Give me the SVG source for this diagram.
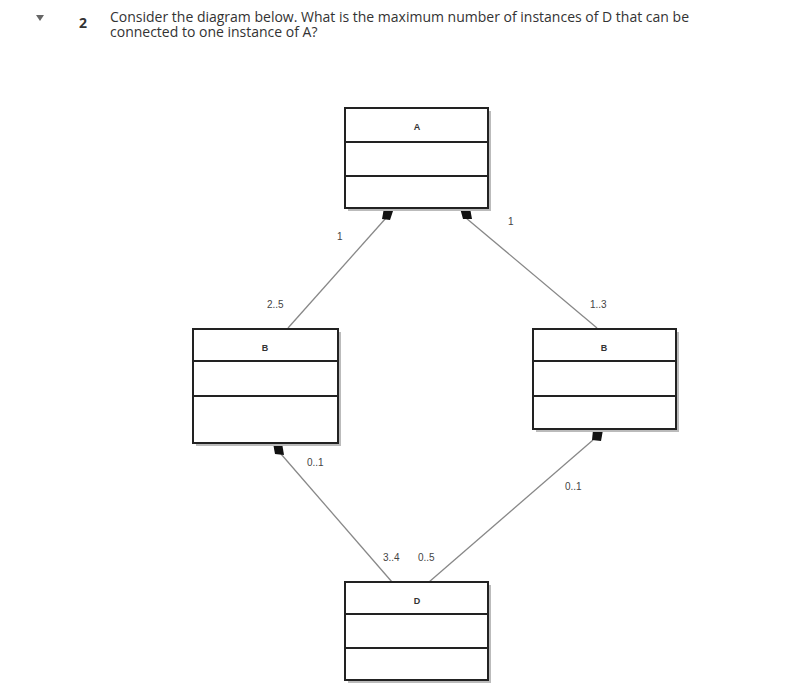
<svg xmlns="http://www.w3.org/2000/svg" width="788" height="683" viewBox="0 0 788 683">
<style>
.box{fill:#fff;stroke:#222;stroke-width:2}
.sh{fill:#bbb}
.dv{stroke:#222;stroke-width:2}
.ln{stroke:#888;stroke-width:1.3;fill:none}
.lb{font-family:"Liberation Sans",Arial,sans-serif;font-size:10px;fill:#444}
.nm{font-family:"Liberation Sans",Arial,sans-serif;font-size:9px;font-weight:bold;fill:#333;text-anchor:middle}
.q{font-family:"Open Sans","Liberation Sans",sans-serif;font-size:14px;fill:#333}
</style>
<rect width="788" height="683" fill="#fff"/>
<g id="header">
<polygon points="36,15 44,15 40,21" fill="#666"/>
<text x="79" y="28" class="q" font-weight="bold" font-size="14">2</text>
<text x="110" y="22" class="q">Consider the diagram below. What is the maximum number of instances of D that can be</text>
<text x="110" y="37" class="q">connected to one instance of A?</text>
</g>
<g id="connectors">
<line class="ln" x1="386" y1="218" x2="288" y2="328"/>
<line class="ln" x1="466" y1="218" x2="597" y2="328"/>
<line class="ln" x1="281" y1="454" x2="392" y2="582"/>
<line class="ln" x1="593" y1="440" x2="429" y2="582"/>
<polygon points="384,208 394,208 390,220 382,219" fill="#111"/>
<polygon points="460,208 470,208 472,219 463,219" fill="#111"/>
<polygon points="273,443 282,443 284,455 275,454" fill="#111"/>
<polygon points="593,430 603,430 601,441 592,440" fill="#111"/>
<text class="lb" x="337" y="240">1</text>
<text class="lb" x="508" y="225">1</text>
<text class="lb" x="267" y="308">2..5</text>
<text class="lb" x="590" y="308">1..3</text>
<text class="lb" x="307" y="466">0..1</text>
<text class="lb" x="565" y="490">0..1</text>
<text class="lb" x="383" y="561">3..4</text>
<text class="lb" x="418" y="561">0..5</text>
</g>
<g id="A">
<rect class="sh" x="348" y="111" width="143" height="100"/>
<rect class="box" x="345" y="108" width="143" height="100"/>
<line class="dv" x1="345" y1="142" x2="488" y2="142"/><line class="dv" x1="345" y1="176" x2="488" y2="176"/>
<text class="nm" x="417" y="130">A</text>
</g>
<g id="B1">
<rect class="sh" x="196" y="332" width="145" height="114"/>
<rect class="box" x="193" y="329" width="145" height="114"/>
<line class="dv" x1="193" y1="361" x2="338" y2="361"/><line class="dv" x1="193" y1="396" x2="338" y2="396"/>
<text class="nm" x="265" y="351">B</text>
</g>
<g id="B2">
<rect class="sh" x="536" y="332" width="143" height="100"/>
<rect class="box" x="533" y="329" width="143" height="100"/>
<line class="dv" x1="533" y1="361" x2="676" y2="361"/><line class="dv" x1="533" y1="396" x2="676" y2="396"/>
<text class="nm" x="604" y="351">B</text>
</g>
<g id="D">
<rect class="sh" x="348" y="585" width="143" height="98"/>
<rect class="box" x="345" y="582" width="143" height="98"/>
<line class="dv" x1="345" y1="614" x2="488" y2="614"/><line class="dv" x1="345" y1="648" x2="488" y2="648"/>
<text class="nm" x="417" y="604">D</text>
</g>
</svg>
